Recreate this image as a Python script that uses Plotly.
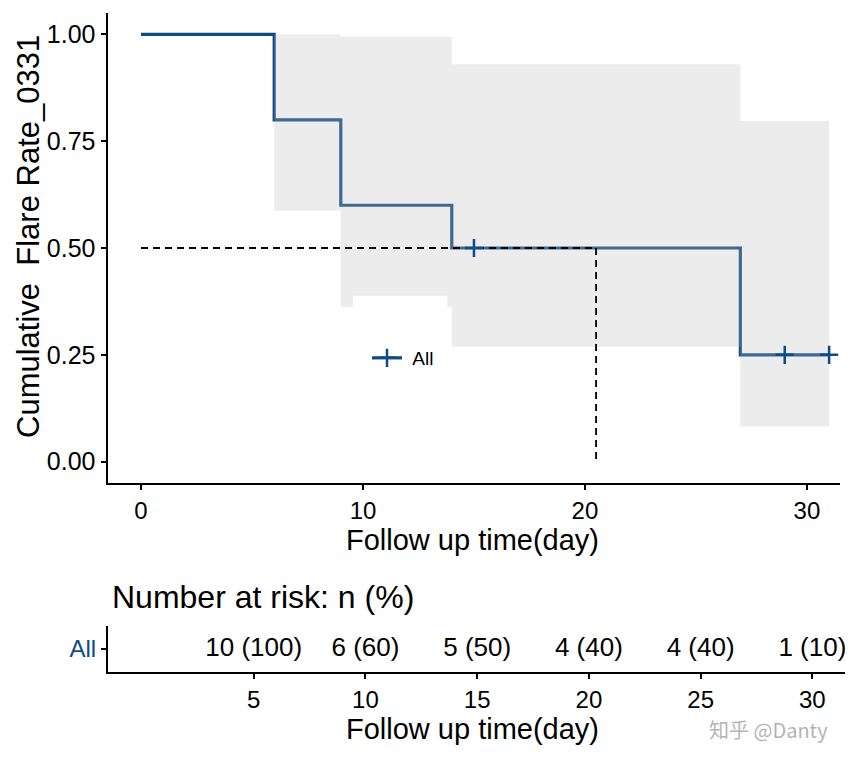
import plotly.graph_objects as go

# ---- data ----
times = [0, 6, 9, 14, 15, 27, 29, 31]
surv = [1.0, 0.80, 0.60, 0.50, 0.50, 0.25, 0.25, 0.25]
censor_t = [15, 29, 31]
censor_s = [0.50, 0.25, 0.25]
band_t = [6, 9, 9.55, 13.8, 14, 27, 31]
band_upper = [1.0, 0.995, 0.995, 0.995, 0.930, 0.797]
band_lower = [0.587, 0.362, 0.388, 0.362, 0.269, 0.082]
median_t = 20.5
median_s = 0.5
risk_t = [5, 10, 15, 20, 25, 30]
risk_n = [10, 6, 5, 4, 4, 1]
risk_pct = [100, 60, 50, 40, 40, 10]
x_ticks = [0, 10, 20, 30]
y_ticks = [0, 0.25, 0.5, 0.75, 1.0]
y_ticktext = ["0.00", "0.25", "0.50", "0.75", "1.00"]

OFF = 8  # page body margin
W, H = 854 - OFF, 758 - OFF
FONT = "Liberation Sans, Arial, sans-serif"
BLUE = "#0E4A84"
BAND = "rgba(185,185,185,0.28)"

def px(v):
    return (v - OFF) / W

def py(v):
    return 1 - (v - OFF) / H

# ribbon polygon (step)
bx, bu, bl = [], [], []
for i in range(len(band_upper)):
    bx += [band_t[i], band_t[i + 1]]
    bu += [band_upper[i], band_upper[i]]
    bl += [band_lower[i], band_lower[i]]
poly_x = bx + bx[::-1]
poly_y = bu + bl[::-1]

fig = go.Figure()
fig.add_trace(go.Scatter(x=times, y=surv, mode="lines", line=dict(color=BLUE, width=3.2, shape="hv"),
                         showlegend=False, xaxis="x", yaxis="y"))
fig.add_trace(go.Scatter(x=poly_x, y=poly_y, fill="toself", fillcolor=BAND, mode="lines",
                         line=dict(width=0, color="rgba(0,0,0,0)"), showlegend=False,
                         xaxis="x", yaxis="y"))
fig.add_trace(go.Scatter(x=[0, median_t], y=[median_s, median_s], mode="lines",
                         line=dict(color="black", width=1.8, dash="7px,5px"), showlegend=False))
fig.add_trace(go.Scatter(x=[median_t, median_t], y=[median_s, 0], mode="lines",
                         line=dict(color="black", width=1.8, dash="7px,5px"), showlegend=False))
fig.add_trace(go.Scatter(x=censor_t, y=censor_s, mode="markers",
                         marker=dict(symbol="cross-thin", size=13, line=dict(color=BLUE, width=2.5)),
                         showlegend=False))
# legend entry
fig.add_trace(go.Scatter(x=[None], y=[None], mode="lines+markers", name="\u00a0All",
                         line=dict(color=BLUE, width=3.2),
                         marker=dict(symbol="cross-thin", size=13, line=dict(color=BLUE, width=2.5)),
                         showlegend=True))

# risk table
fig.add_trace(go.Scatter(x=risk_t, y=[1] * len(risk_t), mode="text",
                         text=[f"{n} ({p})" for n, p in zip(risk_n, risk_pct)],
                         textfont=dict(family=FONT, size=26, color="black"),
                         textposition="middle center", showlegend=False,
                         xaxis="x2", yaxis="y2"))

axis_common = dict(showline=True, linecolor="black", linewidth=2, ticks="outside", ticklen=5,
                   tickwidth=1.5, tickcolor="black", showgrid=False, zeroline=False,
                   tickfont=dict(family=FONT, size=24, color="black"), automargin=False)

fig.update_layout(
    width=W, height=H, margin=dict(l=0, r=0, t=0, b=0),
    paper_bgcolor="white", plot_bgcolor="white",
    font=dict(family=FONT, color="black"),
    xaxis=dict(domain=[px(107.5), px(840)], range=[-1.51, 31.49], tickvals=x_ticks,
               anchor="y", **axis_common),
    yaxis=dict(domain=[py(483), py(13)], range=[-0.05, 1.05], tickvals=y_ticks,
               ticktext=y_ticktext, anchor="x", **{**axis_common, "tickfont": dict(family=FONT, size=25, color="black")}),
    xaxis2=dict(domain=[px(108), px(845)], range=[-1.52, 31.46], tickvals=risk_t,
                anchor="y2", **axis_common),
    yaxis2=dict(domain=[py(672), py(626)], range=[0.5, 1.5], tickvals=[1], ticktext=["All"],
                anchor="x2", **{**axis_common, "tickfont": dict(family=FONT, size=24, color=BLUE)}),
    legend=dict(x=px(367), y=py(358), xanchor="left", yanchor="middle",
                bgcolor="rgba(0,0,0,0)", font=dict(family=FONT, size=19, color="black"),
                itemwidth=30),
    showlegend=True,
)

annots = [
    dict(text="Follow up time(day)", x=px(473), y=py(540), font=dict(size=29)),
    dict(text="Follow up time(day)", x=px(473), y=py(729), font=dict(size=29)),
    dict(text="Cumulative  Flare Rate_0331", x=px(28), y=py(237), textangle=-90, font=dict(size=31)),
    dict(text="Number at risk: n (%)", x=px(110), y=py(597), xanchor="left", font=dict(size=32)),
    dict(text="知乎 @Danty", x=px(768), y=py(729),
         font=dict(size=20, color="#B4B4B4", family="Noto Sans CJK SC, sans-serif")),
]
for a in annots:
    a.setdefault("xanchor", "center")
    a.update(xref="paper", yref="paper", yanchor="middle", showarrow=False)
    f = a["font"]
    f.setdefault("family", FONT)
    f.setdefault("color", "black")
    fig.add_annotation(**a)

fig.write_html("out.html")
